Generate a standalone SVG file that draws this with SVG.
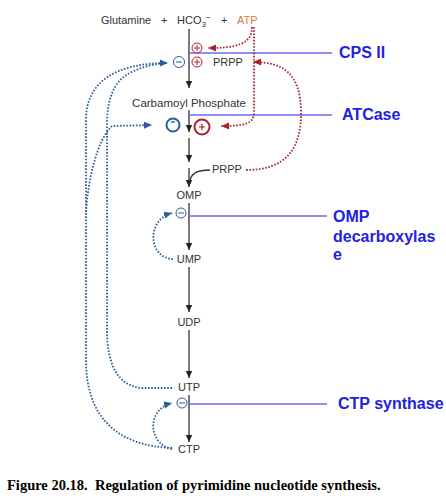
<svg xmlns="http://www.w3.org/2000/svg" width="446" height="500" viewBox="0 0 446 500">
<style>
.lbl{font-family:"Liberation Sans",Arial,sans-serif;font-size:11px;fill:#333}
.enz{font-family:"Liberation Sans",Arial,sans-serif;font-size:16px;font-weight:bold;fill:#2222dd}
.main{stroke:#333;stroke-width:1.3;fill:none}
.ptr{stroke:#6a6af0;stroke-width:1.3;fill:none}
.bdot{stroke:#2b5e96;stroke-width:1.8;fill:none;stroke-dasharray:1.6 1.6}
.rdot{stroke:#a3262e;stroke-width:1.8;fill:none;stroke-dasharray:1.6 1.6}
.neg{stroke:#2b5e96;fill:#fff}
.pos{stroke:#b02030;fill:#fff}
.cap{font-family:"Liberation Serif","Times New Roman",serif;font-size:14.5px;font-weight:bold;fill:#000}
</style>
<defs>
<marker id="ak" markerWidth="8" markerHeight="8" refX="7" refY="4" orient="auto" markerUnits="userSpaceOnUse"><path d="M0,0.8 L7,4 L0,7.2 Z" fill="#222"/></marker>
<marker id="ab" markerWidth="9" markerHeight="8" refX="8" refY="4" orient="auto" markerUnits="userSpaceOnUse"><path d="M0,0.5 L8,4 L0,7.5 Z" fill="#2b5e96"/></marker>
<marker id="ar" markerWidth="9" markerHeight="8" refX="8" refY="4" orient="auto" markerUnits="userSpaceOnUse"><path d="M0,0.5 L8,4 L0,7.5 Z" fill="#a3262e"/></marker>
</defs>

<g id="connectors">
<path class="main" d="M189,29 V88" marker-end="url(#ak)"/>
<path class="main" d="M189,110 V132" marker-end="url(#ak)"/>
<path class="main" d="M189,138 V162" marker-end="url(#ak)"/>
<path class="main" d="M189,168 V187" marker-end="url(#ak)"/>
<path class="main" d="M210,170 C197,170 190,174 190,182"/>
<path class="main" d="M189,203 V250" marker-end="url(#ak)"/>
<path class="main" d="M189,267 V312" marker-end="url(#ak)"/>
<path class="main" d="M189,330 V378" marker-end="url(#ak)"/>
<path class="main" d="M189,395 V442" marker-end="url(#ak)"/>

<path class="ptr" d="M189,53 H332"/>
<path class="ptr" d="M189,115 H332"/>
<path class="ptr" d="M189,216 H327"/>
<path class="ptr" d="M189,404 H327"/>

<path class="bdot" d="M172,448 C120,446 86,420 86,360 L86,120 C86,82 115,63 168,63" marker-end="url(#ab)"/>
<path class="bdot" d="M172,388 L142,388 C118,386 107,365 107,330 L107,125 C107,95 116,78 134,71 C145,66 155,64 165,63"/>
<path class="bdot" d="M86,212 C88,180 97,140 112,126 L152,125" marker-end="url(#ab)"/>
<path class="bdot" d="M173,259 C148,258 146,220 172,213" marker-end="url(#ab)"/>
<path class="bdot" d="M172,449 C149,445 145,410 172,403" marker-end="url(#ab)"/>

<path class="rdot" d="M252,27 C252,45 235,48 208,48" marker-end="url(#ar)"/>
<path class="rdot" d="M254,27 L254,112 C254,124 245,126 221,126" marker-end="url(#ar)"/>
<path class="rdot" d="M246,170 C285,170 302,150 301,110 C300,75 285,62 253,62" marker-end="url(#ar)"/>
</g>

<g id="substrates">
<text class="lbl" x="101" y="24">Glutamine</text>
<text class="lbl" x="161" y="24">+</text>
<text class="lbl" x="177" y="24">HCO<tspan font-size="8" dy="3">3</tspan><tspan font-size="8" dy="-7">−</tspan></text>
<text class="lbl" x="221" y="24">+</text>
<text class="lbl" x="237" y="24" style="fill:#e07a3a">ATP</text>
</g>

<g id="cps2-regulators">
<circle class="pos" cx="197" cy="48" r="5" stroke-width="1"/>
<path d="M194,48 H200 M197,45 V51" stroke="#b02030" stroke-width="1"/>
<circle class="neg" cx="179" cy="62" r="5.5" stroke-width="1"/>
<path d="M176,62 H182" stroke="#2b5e96" stroke-width="1"/>
<circle class="pos" cx="197" cy="62" r="5" stroke-width="1"/>
<path d="M194,62 H200 M197,59 V65" stroke="#b02030" stroke-width="1"/>
<text class="lbl" x="213" y="66">PRPP</text>
</g>

<g id="carbamoyl"><text class="lbl" x="189" y="107" text-anchor="middle" style="font-size:11.5px">Carbamoyl Phosphate</text></g>

<g id="atcase-regulators">
<circle class="neg" cx="173" cy="125" r="6.5" stroke-width="2"/>
<path d="M171,122 H175" stroke="#2b5e96" stroke-width="1.3"/>
<circle class="pos" cx="202" cy="127" r="7.5" stroke-width="2"/>
<path d="M199,127 H205 M202,124 V130" stroke="#b02030" stroke-width="1.2"/>
</g>

<g id="prpp2"><text class="lbl" x="212" y="173">PRPP</text></g>
<g id="omp"><text class="lbl" x="189" y="199" text-anchor="middle">OMP</text></g>
<g id="omp-reg">
<circle class="neg" cx="181" cy="213" r="5" stroke-width="1"/>
<path d="M178,213 H184" stroke="#2b5e96" stroke-width="1"/>
</g>
<g id="ump"><text class="lbl" x="189" y="263" text-anchor="middle">UMP</text></g>
<g id="udp"><text class="lbl" x="189" y="326" text-anchor="middle">UDP</text></g>
<g id="utp"><text class="lbl" x="189" y="391" text-anchor="middle">UTP</text></g>
<g id="ctps-reg">
<circle class="neg" cx="182" cy="403" r="5" stroke-width="1"/>
<path d="M179,403 H185" stroke="#2b5e96" stroke-width="1"/>
</g>
<g id="ctp"><text class="lbl" x="189" y="453" text-anchor="middle">CTP</text></g>

<g id="enz-cps2"><text class="enz" x="339" y="58">CPS II</text></g>
<g id="enz-atcase"><text class="enz" x="342" y="120">ATCase</text></g>
<g id="enz-ompdc"><text class="enz" x="333" y="222">OMP</text><text class="enz" x="333" y="242">decarboxylas</text><text class="enz" x="333" y="260">e</text></g>
<g id="enz-ctps"><text class="enz" x="338" y="409">CTP synthase</text></g>

<g id="caption"><text class="cap" x="7" y="490" xml:space="preserve">Figure 20.18.  Regulation of pyrimidine nucleotide synthesis.</text></g>
</svg>
